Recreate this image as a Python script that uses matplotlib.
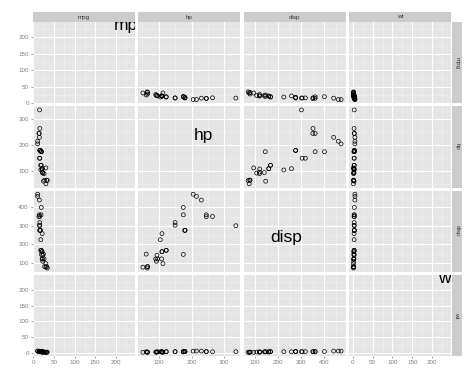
import matplotlib
matplotlib.use("Agg")
import matplotlib.pyplot as plt
from matplotlib.ticker import FixedLocator, AutoMinorLocator

plt.rcParams['font.family'] = ['Liberation Sans', 'DejaVu Sans']

# mtcars columns used in the scatterplot matrix
mpg = [21.0, 21.0, 22.8, 21.4, 18.7, 18.1, 14.3, 24.4, 22.8, 19.2, 17.8, 16.4, 17.3, 15.2, 10.4, 10.4,
       14.7, 32.4, 30.4, 33.9, 21.5, 15.5, 15.2, 13.3, 19.2, 27.3, 26.0, 30.4, 15.8, 19.7, 15.0, 21.4]
hp = [110, 110, 93, 110, 175, 105, 245, 62, 95, 123, 123, 180, 180, 180, 205, 215,
      230, 66, 52, 65, 97, 150, 150, 245, 175, 66, 91, 113, 264, 175, 335, 109]
disp = [160, 160, 108, 258, 360, 225, 360, 146.7, 140.8, 167.6, 167.6, 275.8, 275.8, 275.8, 472, 460,
        440, 78.7, 75.7, 71.1, 120.1, 318, 304, 350, 400, 79, 120.3, 95.1, 351, 145, 301, 121]
wt = [2.620, 2.875, 2.320, 3.215, 3.440, 3.460, 3.570, 3.190, 3.150, 3.440, 3.440, 4.070, 3.730, 3.780, 5.250, 5.424,
      5.345, 2.200, 1.615, 1.835, 2.465, 3.520, 3.435, 3.840, 3.845, 1.935, 2.140, 1.513, 3.170, 2.770, 3.570, 2.780]

var_names = ['mpg', 'hp', 'disp', 'wt']
var_ticks = [[0, 50, 100, 150, 200], [100, 200, 300], [100, 200, 300, 400], [0, 50, 100, 150, 200]]
label_pos = 236  # diagonal variable name placed at (label_pos, label_pos)

data = dict(zip(var_names, [mpg, hp, disp, wt]))

# free scales: data range (plus the diagonal label) with 5% expansion
limits = {}
for name in var_names:
    vals = data[name] + [label_pos]
    lo, hi = min(vals), max(vals)
    pad = 0.05 * (hi - lo)
    limits[name] = (lo - pad, hi + pad)

W, H = 474, 384
fig = plt.figure(figsize=(W / 100, H / 100), dpi=100)
fig.patch.set_facecolor('white')

# layout in pixels
left, right, top, bottom, gap = 33, 451, 22, 356, 3
pw = (right - left - 3 * gap) / 4
ph = (bottom - top - 3 * gap) / 4
strip = 10

tick_col = '#7F7F7F'
for i, yname in enumerate(var_names):
    for j, xname in enumerate(var_names):
        x0 = left + j * (pw + gap)
        y0 = top + i * (ph + gap)
        ax = fig.add_axes([x0 / W, 1 - (y0 + ph) / H, pw / W, ph / H])
        ax.set_facecolor('#E5E5E5')
        for s in ax.spines.values():
            s.set_visible(False)
        ax.set_xlim(limits[xname])
        ax.set_ylim(limits[yname])
        ax.xaxis.set_major_locator(FixedLocator(var_ticks[j]))
        ax.yaxis.set_major_locator(FixedLocator(var_ticks[i]))
        ax.xaxis.set_minor_locator(AutoMinorLocator(2))
        ax.yaxis.set_minor_locator(AutoMinorLocator(2))
        ax.grid(True, which='major', color='white', lw=0.8)
        ax.grid(True, which='minor', color='#F2F2F2', lw=0.4)
        ax.set_axisbelow(True)
        ax.tick_params(which='minor', length=0)
        ax.tick_params(which='major', length=1.5, width=0.5, color=tick_col,
                       labelsize=4.5, labelcolor=tick_col, pad=1.5)
        if j != 0:
            ax.tick_params(axis='y', length=0, labelleft=False)
        if i != 3:
            ax.tick_params(axis='x', length=0, labelbottom=False)

        if i == j:
            ax.text(label_pos, label_pos, xname, fontsize=12.5, ha='center', va='center',
                    color='black', clip_on=True)
        else:
            ax.scatter(data[xname], data[yname], s=8, facecolors='none',
                       edgecolors='black', linewidths=0.5, zorder=3)

        # top strips
        if i == 0:
            sax = fig.add_axes([x0 / W, 1 - top / H, pw / W, strip / H])
            sax.set_facecolor('#CCCCCC')
            sax.set_xticks([])
            sax.set_yticks([])
            for s in sax.spines.values():
                s.set_visible(False)
            sax.text(0.5, 0.5, xname, fontsize=4.5, color='#333333',
                     ha='center', va='center', transform=sax.transAxes)
        # right strips
        if j == 3:
            sax = fig.add_axes([(right + 1) / W, 1 - (y0 + ph) / H, strip / W, ph / H])
            sax.set_facecolor('#CCCCCC')
            sax.set_xticks([])
            sax.set_yticks([])
            for s in sax.spines.values():
                s.set_visible(False)
            sax.text(0.5, 0.5, yname, fontsize=4.5, color='#333333', rotation=-90,
                     ha='center', va='center', transform=sax.transAxes)

fig.savefig('out.png', dpi=100)
